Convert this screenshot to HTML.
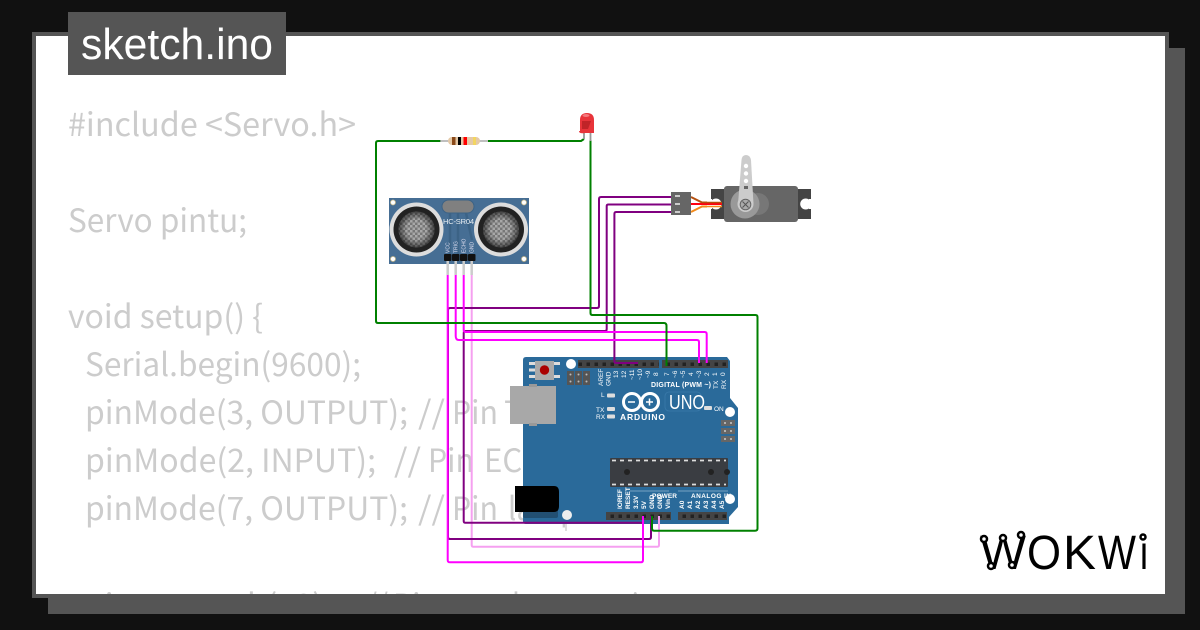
<!DOCTYPE html>
<html><head><meta charset="utf-8"><style>
html,body{margin:0;padding:0;background:#111;width:1200px;height:630px;overflow:hidden}
svg{display:block}
.code{font-family:"Noto Sans CJK JP","DejaVu Sans",sans-serif;font-size:32px;fill:#ccc}
.w{fill:none;stroke-width:2;stroke-linejoin:round}
.s{font-family:"Liberation Sans",sans-serif;font-size:6.5px;fill:#fff}
.b{font-family:"Liberation Sans",sans-serif;font-size:6.5px;fill:#fff;font-weight:bold}
.l{font-family:"Liberation Sans",sans-serif;font-size:48px;fill:#000}
</style></head><body>
<svg width="1200" height="630" viewBox="0 0 1200 630" xmlns="http://www.w3.org/2000/svg">
<defs>
<clipPath id="panel"><rect x="36" y="36" width="1129" height="558"/></clipPath>
<pattern id="mesh" width="5" height="5" patternUnits="userSpaceOnUse"><rect width="5" height="5" fill="#777"/><rect width="2.5" height="2.5" fill="#a8a8a8"/><rect x="2.5" y="2.5" width="2.5" height="2.5" fill="#a8a8a8"/></pattern>
<pattern id="hdr" width="8" height="8" patternUnits="userSpaceOnUse"><rect width="8" height="8" fill="#444"/><rect x="2.5" y="2.5" width="3.5" height="3.5" fill="#222"/></pattern>
<radialGradient id="vig"><stop offset="0.55" stop-color="#000" stop-opacity="0"/><stop offset="1" stop-color="#000" stop-opacity=".55"/></radialGradient>
</defs>
<rect width="1200" height="630" fill="#111"/>
<rect x="48" y="48" width="1137" height="566" fill="#555"/>
<rect x="32" y="32" width="1137" height="566" fill="#555"/>
<rect x="36" y="36" width="1129" height="558" fill="#fff"/>
<g clip-path="url(#panel)" class="code">
<text x="68" y="136" textLength="288" lengthAdjust="spacingAndGlyphs">#include &lt;Servo.h&gt;</text>
<text x="68" y="232" textLength="179" lengthAdjust="spacingAndGlyphs">Servo pintu;</text>
<text x="68" y="328" textLength="195" lengthAdjust="spacingAndGlyphs">void setup() {</text>
<text x="85" y="376" textLength="276" lengthAdjust="spacingAndGlyphs">Serial.begin(9600);</text>
<text x="85" y="424" textLength="323" lengthAdjust="spacingAndGlyphs">pinMode(3, OUTPUT);</text>
<text x="418" y="424" textLength="27" lengthAdjust="spacingAndGlyphs">//</text>
<text x="452" y="424" textLength="46" lengthAdjust="spacingAndGlyphs">Pin</text>
<text x="504" y="424" textLength="80" lengthAdjust="spacingAndGlyphs">TRIG</text>
<text x="85" y="472" textLength="291" lengthAdjust="spacingAndGlyphs">pinMode(2, INPUT);</text>
<text x="394" y="472" textLength="27" lengthAdjust="spacingAndGlyphs">//</text>
<text x="428" y="472" textLength="46" lengthAdjust="spacingAndGlyphs">Pin</text>
<text x="484" y="472" textLength="84" lengthAdjust="spacingAndGlyphs">ECHO</text>
<text x="85" y="520" textLength="323" lengthAdjust="spacingAndGlyphs">pinMode(7, OUTPUT);</text>
<text x="418" y="520" textLength="27" lengthAdjust="spacingAndGlyphs">//</text>
<text x="452" y="520" textLength="46" lengthAdjust="spacingAndGlyphs">Pin</text>
<text x="508" y="520" textLength="88" lengthAdjust="spacingAndGlyphs">lampu</text>
<text x="85" y="617" textLength="247" lengthAdjust="spacingAndGlyphs">pintu.attach(10);</text>
<text x="366" y="617" textLength="22" lengthAdjust="spacingAndGlyphs">//</text>
<text x="393" y="617" textLength="46" lengthAdjust="spacingAndGlyphs">Pin</text>
<text x="448" y="617" textLength="80" lengthAdjust="spacingAndGlyphs">untuk</text>
<text x="548" y="617" textLength="130" lengthAdjust="spacingAndGlyphs">servo pintu</text>
</g>
<rect x="68" y="12" width="218" height="63" fill="#555"/>
<text x="81" y="59" font-family="Liberation Sans, sans-serif" font-size="44" fill="#fff" textLength="192" lengthAdjust="spacingAndGlyphs">sketch.ino</text>

<!-- Arduino board -->
<g>
<path d="M526 357H727L730 361V398L738 408V507L729 517V524H526Q523 524 523 521V360Q523 357 526 357Z" fill="#2a6a9a"/>
<rect x="516" y="401" width="6" height="2" fill="#ddd"/>
<rect x="510" y="386" width="46" height="38" fill="#a8a8a8"/>
<rect x="529" y="384" width="8" height="3" fill="#999"/><rect x="529" y="423" width="8" height="3" fill="#999"/>
<g fill="#ddd"><rect x="529" y="362" width="6" height="3"/><rect x="529" y="368.500" width="6" height="3"/><rect x="529" y="375" width="6" height="3"/><rect x="554" y="362" width="6" height="3"/><rect x="554" y="375" width="6" height="3"/></g>
<rect x="535" y="361" width="19" height="19" fill="#aaa"/>
<circle cx="544.500" cy="370" r="4.700" fill="#a00"/>
<circle cx="571" cy="364" r="5" fill="#fff"/>
<rect x="567" y="371" width="7" height="14" fill="#555"/><rect x="575" y="371" width="7" height="14" fill="#555"/><rect x="583" y="371" width="7" height="14" fill="#555"/>
<g fill="#bbb"><circle cx="570.500" cy="374.500" r="1"/><circle cx="570.500" cy="381.500" r="1"/><circle cx="578.500" cy="374.500" r="1"/><circle cx="578.500" cy="381.500" r="1"/><circle cx="586.500" cy="374.500" r="1"/><circle cx="586.500" cy="381.500" r="1"/></g>
<rect x="578" y="360" width="81" height="8" fill="url(#hdr)"/>
<rect x="662" y="360" width="66" height="8" fill="url(#hdr)"/>
<rect x="606" y="512" width="65" height="8" fill="url(#hdr)"/>
<rect x="678" y="512" width="49" height="8" fill="url(#hdr)"/>
<g class="s">
<text transform="translate(603,386) rotate(-90)">AREF</text>
<text transform="translate(610.500,386) rotate(-90)">GND</text>
<text transform="translate(618,378) rotate(-90)">13</text><text transform="translate(626,378) rotate(-90)">12</text>
<text transform="translate(634,380) rotate(-90)">~11</text><text transform="translate(642,380) rotate(-90)">~10</text>
<text transform="translate(650,378) rotate(-90)">~9</text><text transform="translate(658,376) rotate(-90)">8</text>
<text transform="translate(669,376) rotate(-90)">7</text><text transform="translate(677,378) rotate(-90)">~6</text>
<text transform="translate(685,378) rotate(-90)">~5</text><text transform="translate(693,376) rotate(-90)">4</text>
<text transform="translate(701,378) rotate(-90)">~3</text><text transform="translate(709,376) rotate(-90)">2</text>
<text transform="translate(717,376) rotate(-90)">1</text><text transform="translate(725,376) rotate(-90)">0</text>
<text transform="translate(718,389) rotate(-90)">TX</text><text transform="translate(726,389) rotate(-90)">RX</text>
<text x="601" y="397">L</text><text x="596" y="412">TX</text><text x="596" y="419">RX</text>
<text x="714" y="411">ON</text>
</g>
<g fill="#ddd"><rect x="607" y="393.500" width="8" height="4" rx="1"/><rect x="607" y="407" width="8" height="4" rx="1"/><rect x="607" y="414.500" width="8" height="4" rx="1"/><rect x="704" y="406" width="8" height="4" rx="1"/></g>
<text x="651" y="387" class="b" textLength="60" style="font-size:7px">DIGITAL (PWM ~)</text>
<g fill="none" stroke="#fff" stroke-width="3"><circle cx="632" cy="402" r="8.500"/><circle cx="650" cy="402" r="8.500"/></g>
<path d="M628 402h7M646 402h7M649.500 398.500v7" stroke="#fff" stroke-width="1.500"/>
<text x="620" y="420" class="b" style="font-size:8.500px" textLength="45">ARDUINO</text>
<rect x="665" y="392" width="36" height="19" rx="4" fill="none" stroke="#3a7aaa" stroke-width=".8"/>
<text x="669" y="409" font-family="Liberation Sans, sans-serif" font-size="20" fill="#fff" textLength="36" lengthAdjust="spacingAndGlyphs">UNO</text>
<circle cx="730" cy="412" r="5" fill="#fff"/>
<rect x="721" y="420" width="14" height="6" fill="#666"/><rect x="721" y="428" width="14" height="6" fill="#666"/><rect x="721" y="436" width="14" height="6" fill="#666"/>
<g fill="#ccc"><circle cx="725" cy="423" r="1"/><circle cx="731" cy="423" r="1"/><circle cx="725" cy="431" r="1"/><circle cx="731" cy="431" r="1"/><circle cx="725" cy="439" r="1"/><circle cx="731" cy="439" r="1"/></g>
<rect x="610" y="458" width="118" height="29" rx="1" fill="#3a3d42"/>
<path d="M612 460.500H726M612 484.500H726" stroke="#ddd" stroke-width="1.800" stroke-dasharray="4 4"/>
<circle cx="627" cy="472" r="3" fill="#222"/><circle cx="711" cy="472" r="3" fill="#222"/><circle cx="727" cy="472" r="3" fill="#222"/>
<rect x="523" y="508" width="35" height="10" rx="2" fill="#224f72"/>
<path d="M515 486H554Q559 486 559 492V506Q559 512 554 512H515Z" fill="#000"/>
<circle cx="567" cy="515" r="5" fill="#eee"/>
<rect x="565" y="524" width="2" height="7" fill="#ddd"/>
<circle cx="730" cy="499" r="5" fill="#fff"/>
<g class="s" style="font-weight:bold">
<text transform="translate(622,509) rotate(-90)">IOREF</text><text transform="translate(630,509) rotate(-90)">RESET</text>
<text transform="translate(638,509) rotate(-90)">3.3V</text><text transform="translate(646,509) rotate(-90)">5V</text>
<text transform="translate(654,509) rotate(-90)">GND</text><text transform="translate(662,509) rotate(-90)">GND</text>
<text transform="translate(670,509) rotate(-90)">Vin</text>
<text transform="translate(684,509) rotate(-90)">A0</text><text transform="translate(692,509) rotate(-90)">A1</text>
<text transform="translate(700,509) rotate(-90)">A2</text><text transform="translate(708,509) rotate(-90)">A3</text>
<text transform="translate(716,509) rotate(-90)">A4</text><text transform="translate(724,509) rotate(-90)">A5</text>
</g>
<text x="652" y="498" class="b" textLength="25">POWER</text>
<text x="691" y="498" class="b" textLength="40">ANALOG IN</text>
<path d="M630 491H669M678 491H728" stroke="#8fb4cf" stroke-width=".7" fill="none"/>
</g>

<!-- Wires -->
<g class="w">
<path stroke="#f5a0f0" d="M471.700 275V545Q471.700 546.700 473 546.700H657.500Q659 546.700 659 545V516"/>
<path stroke="#800080" d="M671 197H601Q599 197 599 199V306Q599 308 597 308H450Q448 308 448 310V537Q448 539 450 539H649Q651 539 651 537V516"/>
<path stroke="#800080" d="M671 204.500H608.500Q606.700 204.500 606.700 206V329Q606.700 331 605 331H465.500Q463.700 331 463.700 333V521Q463.700 522.700 465 522.700H643"/>
<path stroke="#800080" d="M671 212H616Q614.400 212 614.400 214V361Q614.400 363 616 363H638"/>
<path stroke="#f0f" d="M447.700 275V560Q447.700 562.300 450 562.300H641Q643 562.300 643 560V516"/>
<path stroke="#f0f" d="M455.700 275V336Q455.700 340 459 340H697Q699 340 699 342V363"/>
<path stroke="#f0f" d="M463.700 275V330Q463.700 332 466 332H704.700Q706.700 332 706.700 334V363"/>
<path stroke="#008000" d="M441 141H378Q376 141 376 143V321Q376 323 378 323H664Q666.500 323 666.500 326V366"/>
<path stroke="#008000" d="M488 141H581L584 139"/>
<path stroke="#008000" d="M590.500 140V313Q590.500 315 592.500 315H755.500Q757.500 315 757.500 317V528.500Q757.500 530.700 755 530.700H654Q652 530.700 652 528V516"/>
</g>

<!-- Resistor -->
<path d="M440 141H488" stroke="#aaa" stroke-width="1.500"/>
<rect x="448" y="137" width="32" height="8" rx="4" fill="#e4c9a8"/>
<rect x="452" y="137" width="3.500" height="8" fill="#8b4a1a"/><rect x="458" y="137" width="3" height="8" fill="#000"/><rect x="463.500" y="137" width="3.500" height="8" fill="#f00"/><rect x="473" y="137" width="3" height="8" fill="#f2d560"/>
<!-- LED -->
<path d="M584 133V139M590.500 133V141" stroke="#999" stroke-width="1.800" fill="none"/>
<path d="M580 131V120Q580 113 587 113Q594 113 594 120V133H585Q579 134 579 131Z" fill="#e8343a"/>
<path d="M582 121h9l-3 8h-6z" fill="#c02428"/>
<ellipse cx="586" cy="115.500" rx="3.500" ry="1.500" fill="#f47a7e"/>

<!-- HC-SR04 -->
<rect x="389" y="198" width="140" height="66" fill="#466e94"/>
<g fill="#fff" stroke="#c9b98a" stroke-width=".8"><circle cx="393" cy="202.500" r="2.500"/><circle cx="524" cy="202.500" r="2.500"/><circle cx="393" cy="259" r="2.500"/><circle cx="524" cy="259" r="2.500"/></g>
<path d="M450 213V254M458 213V254M466 213L472 240" stroke="#3c6386" stroke-width="2.500" fill="none"/>
<g>
<circle cx="416.500" cy="229.500" r="27" fill="#ddd"/><circle cx="416.500" cy="229.500" r="23" fill="#222"/><circle cx="416.500" cy="229.500" r="18" fill="url(#mesh)"/><circle cx="416.500" cy="229.500" r="18" fill="url(#vig)"/>
<circle cx="501" cy="229.500" r="27" fill="#ddd"/><circle cx="501" cy="229.500" r="23" fill="#222"/><circle cx="501" cy="229.500" r="18" fill="url(#mesh)"/><circle cx="501" cy="229.500" r="18" fill="url(#vig)"/>
</g>
<rect x="442" y="200" width="32" height="13" rx="6.500" fill="#808080" stroke="#3c6386" stroke-width="1"/>
<text x="443" y="224" font-family="Liberation Sans, sans-serif" font-size="7.500" fill="#e8eef3" textLength="31">HC-SR04</text>
<g class="s" style="font-size:5px;fill:#dde">
<text transform="translate(449.500,253) rotate(-90)">VCC</text><text transform="translate(457.500,253) rotate(-90)">TRIG</text>
<text transform="translate(465.500,253) rotate(-90)">ECHO</text><text transform="translate(473.500,253) rotate(-90)">GND</text>
</g>
<path d="M447.700 258V275M455.700 258V275M463.700 258V275M471.700 258V275" stroke="#ccc" stroke-width="2.500"/>
<g fill="#111"><rect x="444" y="254" width="7.500" height="7" rx="1"/><rect x="452" y="254" width="7.500" height="7" rx="1"/><rect x="460" y="254" width="7.500" height="7" rx="1"/><rect x="468" y="254" width="7.500" height="7" rx="1"/></g>

<!-- Servo -->
<path d="M691 197L702 202.500H722" fill="none" stroke="#b5500f" stroke-width="2"/>
<path d="M691 212L702 206.500H722" fill="none" stroke="#f28a1a" stroke-width="2"/>
<rect x="671" y="192" width="20" height="23" fill="#666"/>
<g fill="#ccc"><rect x="675" y="195" width="5" height="2"/><rect x="675" y="203" width="5" height="2"/><rect x="675" y="211" width="5" height="2"/></g>
<rect x="711" y="189" width="100" height="30" fill="#444"/>
<circle cx="716" cy="204" r="5.500" fill="#fff"/><rect x="707" y="199" width="5" height="10" fill="#fff"/>
<circle cx="805.700" cy="204" r="5.500" fill="#fff"/><rect x="809" y="199" width="3" height="10" fill="#fff"/>
<rect x="724" y="186" width="74" height="36" rx="3" fill="#666"/>
<path d="M691 204H722" stroke="#f01" stroke-width="2" fill="none"/>
<path d="M702 202.500H722" stroke="#b5500f" stroke-width="1.500" fill="none"/>
<path d="M702 206.500H722" stroke="#f28a1a" stroke-width="1.500" fill="none"/>
<circle cx="758" cy="204" r="11" fill="#777"/>
<circle cx="745" cy="204" r="14.500" fill="#999"/>
<path d="M741.500 160Q742 155 746 155Q750 155 751 160L753.500 204H738Z" fill="#ccc"/>
<g fill="#fff"><circle cx="746" cy="166" r="2.200"/><circle cx="746" cy="173.500" r="2.200"/><circle cx="746" cy="181" r="2.200"/></g>
<rect x="744" y="186" width="4" height="3" fill="#666"/>
<circle cx="745.500" cy="204" r="8" fill="#ccc"/>
<circle cx="745.500" cy="204.500" r="5.300" fill="#aaa" stroke="#666" stroke-width="1"/>
<path d="M742.500 201.500l6 6M748.500 201.500l-6 6" stroke="#555" stroke-width="1"/>

<!-- Wokwi logo -->
<text x="980" y="569" class="l" textLength="46" lengthAdjust="spacingAndGlyphs">W</text>
<text x="1027" y="569" class="l" textLength="34" lengthAdjust="spacingAndGlyphs">O</text>
<text x="1063" y="569" class="l" textLength="33" lengthAdjust="spacingAndGlyphs">K</text>
<text x="1098" y="569" class="l" textLength="38" lengthAdjust="spacingAndGlyphs">W</text>
<text x="1140" y="569" class="l" textLength="8" lengthAdjust="spacingAndGlyphs">i</text>
<g fill="#fff" stroke="#000" stroke-width="2.500">
<circle cx="984" cy="539" r="3"/><circle cx="1003" cy="538" r="3"/><circle cx="1021" cy="535" r="3"/><circle cx="991" cy="566" r="3"/><circle cx="1012" cy="565" r="3"/><circle cx="1143" cy="537" r="2.500"/>
</g>
</svg>
</body></html>
